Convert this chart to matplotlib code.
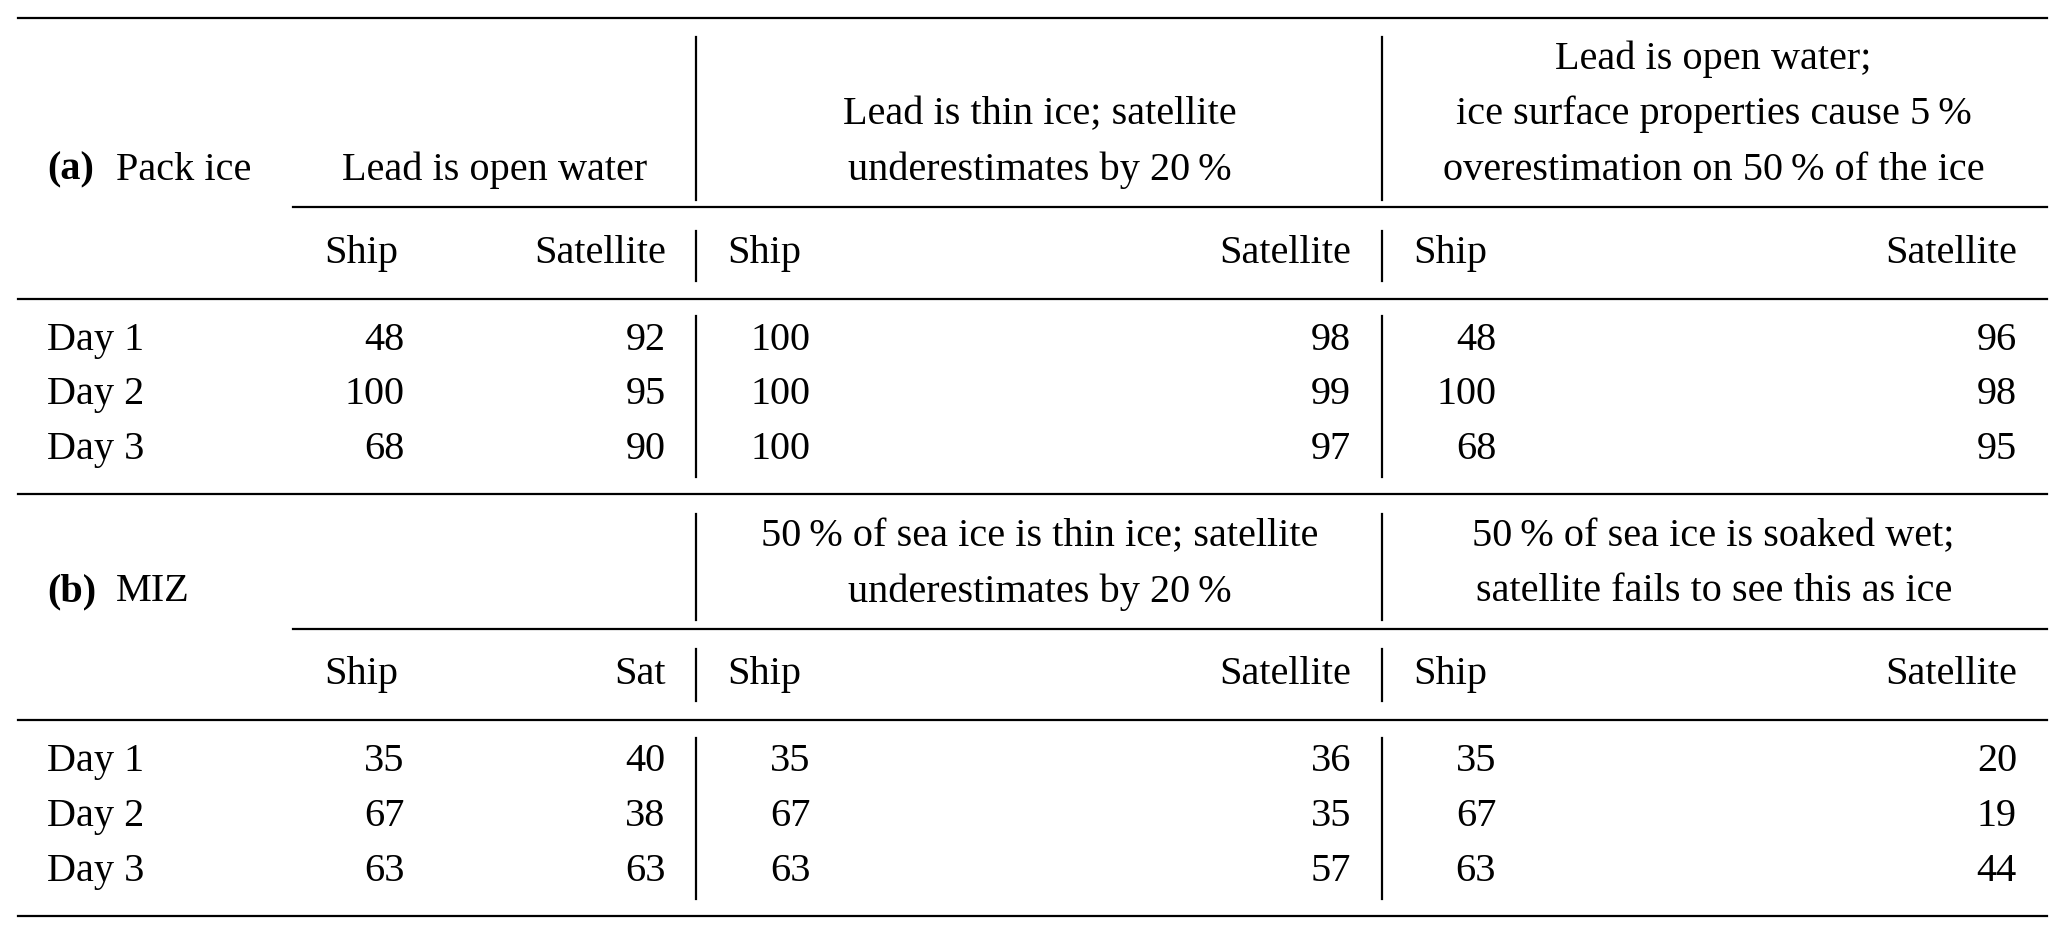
import matplotlib.pyplot as plt

# values: ship / satellite per scenario, per day
days = ["Day 1", "Day 2", "Day 3"]
pack_ship = [48, 100, 68]
pack_sat_open = [92, 95, 90]
pack_ship_thin = [100, 100, 100]
pack_sat_thin = [98, 99, 97]
pack_ship_surf = [48, 100, 68]
pack_sat_surf = [96, 98, 95]

miz_ship = [35, 67, 63]
miz_sat = [40, 38, 63]
miz_ship_thin = [35, 67, 63]
miz_sat_thin = [36, 35, 57]
miz_ship_wet = [35, 67, 63]
miz_sat_wet = [20, 19, 44]

ts = "\u2009"
pack_heads = [["Lead is open water"],
              ["Lead is thin ice; satellite", f"underestimates by 20{ts}%"],
              ["Lead is open water;", f"ice surface properties cause 5{ts}%",
               f"overestimation on 50{ts}% of the ice"]]
miz_heads = [[],
             [f"50{ts}% of sea ice is thin ice; satellite", f"underestimates by 20{ts}%"],
             [f"50{ts}% of sea ice is soaked wet;", "satellite fails to see this as ice"]]

plt.rcParams['font.family'] = ['Liberation Serif', 'DejaVu Serif']
FS = 29

fig = plt.figure(figsize=(20.67, 9.36), dpi=100)
ax = fig.add_axes([0, 0, 1, 1])
ax.set_xlim(0, 1568)
ax.set_ylim(710, 0)
ax.axis('off')

def hline(y, x0=14, x1=1553):
    ax.plot([x0, x1], [y, y], color='black', lw=1.6)

def vlines(spans):
    for x in (528, 1048):
        for y0, y1 in spans:
            ax.plot([x, x], [y0, y1], color='black', lw=1.6)

def txt(x, y, s, ha='left', **kw):
    ax.text(x, y, s, ha=ha, va='center', fontsize=FS, **kw)

centers = [375, 789, 1300]

def section(y0, label, heads, sub_sat1, cols, hdr_bottom, sub_y, rows_y):
    txt(36, hdr_bottom, label[0], fontweight='bold')
    txt(88, hdr_bottom, label[1])
    for c, lines in zip(centers, heads):
        n = len(lines)
        for k, line in enumerate(lines):
            txt(c, hdr_bottom - 42 * (n - 1 - k), line, ha='center')
    txt(246, sub_y, "Ship")
    txt(505, sub_y, sub_sat1, ha='right')
    txt(552, sub_y, "Ship")
    txt(1025, sub_y, "Satellite", ha='right')
    txt(1072, sub_y, "Ship")
    txt(1530, sub_y, "Satellite", ha='right')
    rights = [307, 505, 615, 1025, 1135, 1530]
    for i, y in enumerate(rows_y):
        txt(36, y, days[i])
        for r, col in zip(rights, cols):
            txt(r, y, str(col[i]), ha='right')

hline(14)
hline(157, 222)
hline(227)
hline(375)
hline(477, 222)
hline(546)
hline(695)
vlines([(28, 152), (175, 213), (240, 362), (390, 470), (492, 532), (560, 682)])

section(14, ("(a)", "Pack ice"), pack_heads, "Satellite",
        [pack_ship, pack_sat_open, pack_ship_thin, pack_sat_thin, pack_ship_surf, pack_sat_surf],
        129, 192, [258, 299, 341])
section(375, ("(b)", "MIZ"), miz_heads, "Sat",
        [miz_ship, miz_sat, miz_ship_thin, miz_sat_thin, miz_ship_wet, miz_sat_wet],
        449, 512, [578, 619, 661])

fig.savefig("out.png", dpi=100)
